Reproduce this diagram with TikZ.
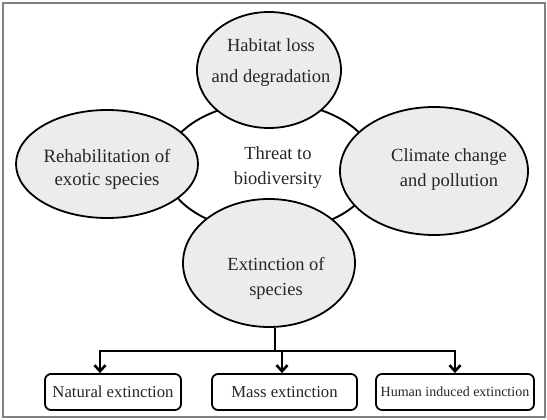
\documentclass[tikz,border=0pt]{standalone}
\usepackage{fontspec}
\setmainfont{Liberation Serif}
\usetikzlibrary{shapes.geometric,arrows.meta}
\tikzset{
  threat blob/.style={
    ellipse,
    draw,
    line width=1.8pt,
    fill=gray!15,
    inner sep=0pt
  },
  threat ring/.style={
    ellipse,
    draw,
    line width=1.9pt,
    fill=white,
    inner sep=0pt,
    minimum width=210pt,
    minimum height=130pt
  },
  threat text/.style={
    align=center,
    inner sep=0pt,
    text=black!85,
    font=\fontsize{18.5}{25}\selectfont
  },
  fate box/.style={
    draw,
    rounded corners=6pt,
    line width=1.8pt,
    minimum height=36pt,
    inner sep=0pt,
    text=black!85,
    font=\fontsize{16.7}{19}\selectfont
  },
  fate line/.style={
    line width=2.6pt
  },
  fate arrow/.style={
    fate line,
    -{Straight Barb[length=6pt,width=11pt]}
  },
}

\begin{document}
\begin{tikzpicture}[x=1pt,y=-1pt]
  \useasboundingbox (0,0) rectangle (547,420);
  \draw[line width=1.2pt,color=gray] (3,3) rectangle (545,417);
  \node[threat ring] (threat) at (270,167) {};
  \node[threat blob,minimum width=144pt,minimum height=116pt] (habitat) at (269,70) {};
  \node[threat blob,minimum width=182pt,minimum height=108pt] (exotic) at (107,164) {};
  \node[threat blob,minimum width=188pt,minimum height=128pt] (climate) at (434,171) {};
  \node[threat blob,minimum width=172pt,minimum height=128pt] (extinct) at (269,263) {};
  \node[threat text] (threat-t) at (278,168) {Threat to\\biodiversity};
  \node[threat text,font=\fontsize{18.5}{31}\selectfont] (habitat-t) at (271,63) {Habitat loss\\and degradation};
  \node[threat text,font=\fontsize{18.8}{23}\selectfont] (exotic-t) at (107,169) {Rehabilitation of\\exotic species};
  \node[threat text] (climate-t) at (449,170) {Climate change\\and pollution};
  \node[threat text] (extinct-t) at (276,278) {Extinction of\\species};
  \node[fate box,minimum width=136pt] (natural) at (113,392) {Natural extinction};
  \node[fate box,minimum width=145pt] (mass) at (284.5,392) {Mass extinction};
  \node[fate box,minimum width=158pt,font=\fontsize{14}{16}\selectfont] (human) at (455,392) {Human induced extinction};
  \coordinate (split) at (275,351);
  \draw[fate line] (extinct.south -| split) -- (split);
  \draw[fate arrow] (split) -| ([xshift=-13pt]natural.north);
  \draw[fate arrow] (split) -| ([xshift=-2.5pt]mass.north);
  \draw[fate arrow] (split) -| (human.north);
\end{tikzpicture}
\end{document}
